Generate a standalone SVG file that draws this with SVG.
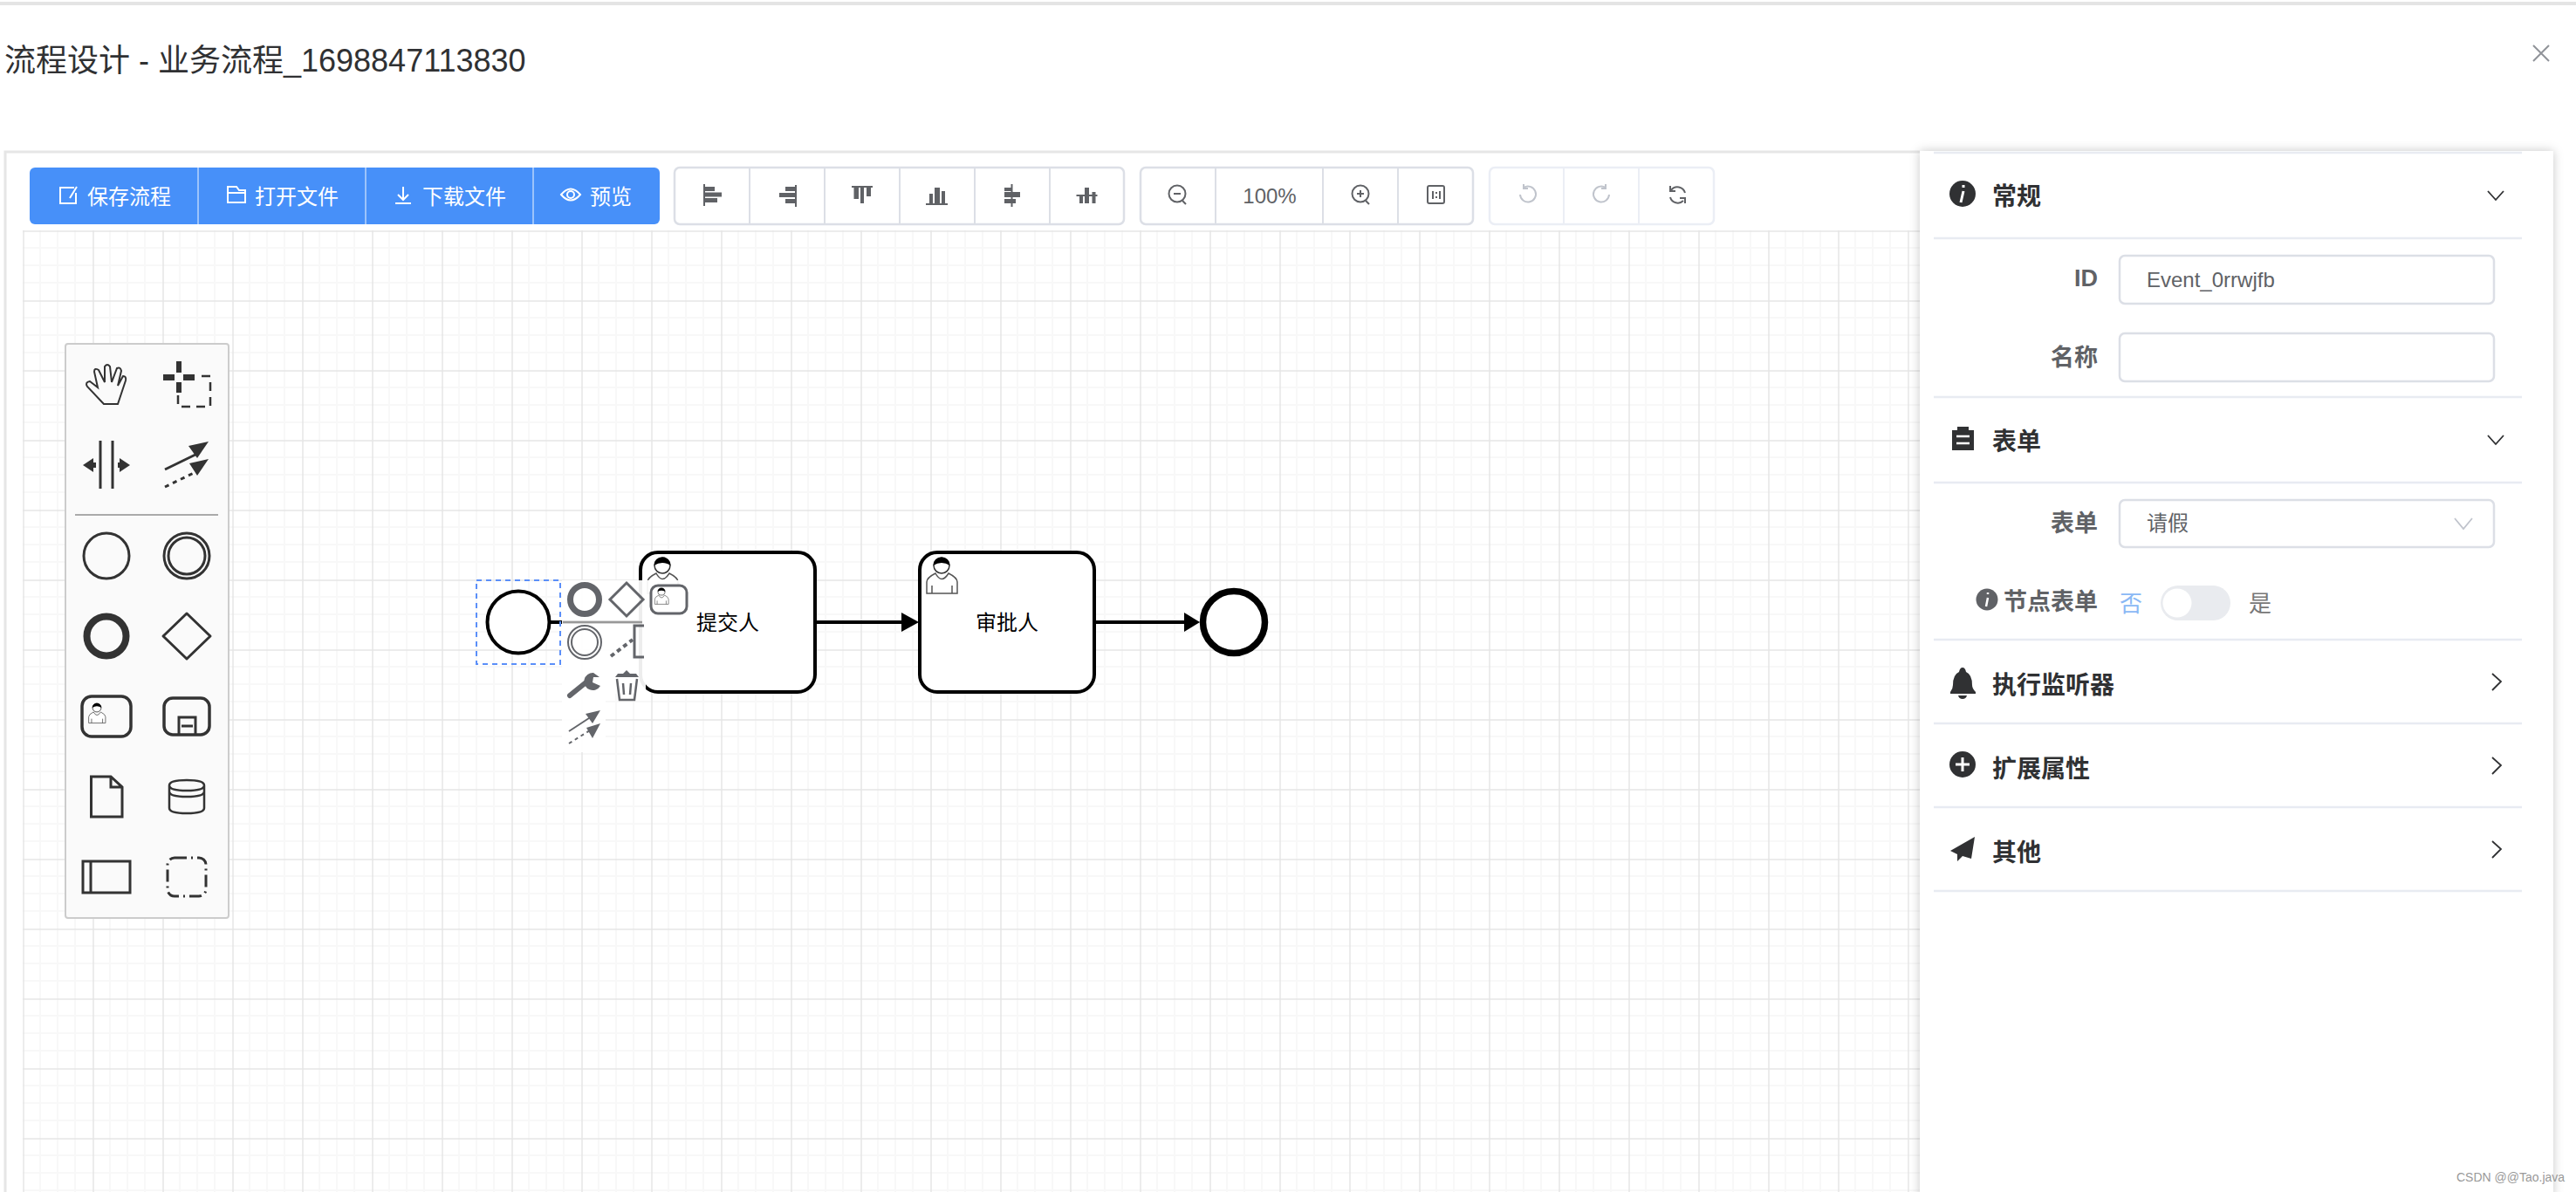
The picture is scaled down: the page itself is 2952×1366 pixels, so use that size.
<svg xmlns="http://www.w3.org/2000/svg" width="2952" height="1366" viewBox="0 0 2952 1366">
<style>
text{font-family:"Liberation Sans","Noto Sans CJK SC",sans-serif}
.btn{fill:#fff;font-size:24px}
.hd{fill:#303133;font-size:28px;font-weight:700}
.lb{fill:#606266;font-size:27px;font-weight:700;text-anchor:end}
.nd{fill:#000;font-size:24px;text-anchor:middle}
.tb{fill:#fff;stroke:#dcdfe6;stroke-width:2.5}
.dv{stroke:#dcdfe6;stroke-width:2}
.bi{fill:none;stroke:#fff;stroke-width:2}
.ic{fill:#606266}
.io{fill:none;stroke:#606266;stroke-width:2}
.dis{fill:none;stroke:#c0c4cc;stroke-width:2}
.pl{fill:none;stroke:#333;stroke-width:3}
.plf{fill:#333}
.pd{fill:none;stroke:#63656a;stroke-width:3}
.pdf{fill:#63656a}
.sep{stroke:#e8ebf2;stroke-width:2.5}
.chev{fill:none;stroke:#303133;stroke-width:1.8}
.inp{fill:#fff;stroke:#dcdfe6;stroke-width:2.5}
.flow{fill:none;stroke:#000;stroke-width:4}
.tk{fill:#fff;stroke:#000;stroke-width:4}
</style>
<defs>
<pattern id="grid" x="26" y="264" width="80" height="80" patternUnits="userSpaceOnUse">
<path d="M20 0V80M40 0V80M60 0V80M0 20H80M0 40H80M0 60H80" stroke="#f8f8f8" stroke-width="2" fill="none"/>
<path d="M1 0V80M0 1H80" stroke="#e6e6e6" stroke-width="1.500" fill="none"/>
</pattern>
<filter id="sh" x="-5%" y="-5%" width="110%" height="110%"><feDropShadow dx="0" dy="0" stdDeviation="6" flood-color="#000" flood-opacity=".22"/></filter>
<g id="user">
<path d="M-17 32V19Q-17 14-7 9Q0 22 8 9Q18 14 18 19V32Z" fill="#fff" stroke="#555" stroke-width="1.5"/>
<path d="M-11 23V32M12 23V32" stroke="#555" stroke-width="1.5"/>
<circle cx="0" cy="0" r="9" fill="#fff" stroke="#333" stroke-width="1.5"/>
<path d="M-9.500 0A9.500 9.500 0 0 1 9.500 0Q0-6-9.500 0Z" fill="#000"/>
</g>
</defs>

<rect width="2952" height="1366" fill="#fff"/>
<rect width="2952" height="4" y="2" fill="#e4e4e4"/>
<g id="title"><text x="5" y="82" font-size="36" fill="#303133">流程设计 - 业务流程_1698847113830</text>
<path d="M2903 52L2921 70M2921 52L2903 70" stroke="#909399" stroke-width="2" fill="none"/></g>

<g id="canvas">
<path d="M6 1366V174H2200" fill="none" stroke="#e6e6e6" stroke-width="3"/>
<rect x="26" y="264" width="2176" height="1102" fill="url(#grid)"/>
</g>

<g id="toolbar-main">
<rect x="34" y="192" width="722" height="65" rx="6" fill="#4790f9"/>
<path d="M227 192V257M419 192V257M611 192V257" stroke="#9cc3fb" stroke-width="2"/>
<path class="bi" d="M85 215H69V233H87V221M80 227L88 214"/>
<text class="btn" x="100" y="234">保存流程</text>
<path class="bi" d="M261 232V214H271L274 218H281V232ZM261 221H281"/>
<text class="btn" x="292" y="234">打开文件</text>
<path class="bi" d="M462 214V228M456 223L462 229L468 223M453 233H471"/>
<text class="btn" x="484" y="234">下载文件</text>
<path class="bi" d="M643 223Q654 210 665 223Q654 236 643 223Z"/><circle class="bi" cx="654" cy="223" r="4"/>
<text class="btn" x="676" y="234">预览</text>
</g>

<g id="toolbar-align">
<rect class="tb" x="773" y="192" width="515" height="65" rx="6"/>
<path class="dv" d="M859 192V257M945 192V257M1031 192V257M1117 192V257M1203 192V257"/>
<path class="ic" d="M806 211h2v25h-2zM808 214h11v5h-11zM808 220.500h19v5h-19zM808 227h14v5h-14z"/>
<path class="ic" d="M911 212h2v25h-2zM900 214h11v5h-11zM893 221h18v5h-18zM900 228h11v5h-11z"/>
<path class="ic" d="M976 213h24v2h-24zM978.500 215h5.500v13h-5.500zM986 215h4v18h-4zM993 215h5v10h-5z"/>
<path class="ic" d="M1061 233h25v2h-25zM1065 222h4v11h-4zM1071 215h6v18h-6zM1079 219h4v14h-4z"/>
<path class="ic" d="M1158.500 211h2v26h-2zM1151 215h9v4h-9zM1151 220h18v6h-18zM1151 228h13v5h-13z"/>
<path class="ic" d="M1233.500 223h24v2h-24zM1237 223h4v10h-4zM1243 215h5v18h-5zM1251.500 220h4v13h-4z"/>
</g>

<g id="toolbar-zoom">
<rect class="tb" x="1307" y="192" width="381" height="65" rx="6"/>
<path class="dv" d="M1393 192V257M1516 192V257M1602 192V257"/>
<circle class="io" cx="1349" cy="222" r="9.500"/><path class="io" d="M1345 222H1353M1355 230L1359 234"/>
<text x="1455" y="233" font-size="24" fill="#606266" text-anchor="middle">100%</text>
<circle class="io" cx="1559" cy="222" r="9.500"/><path class="io" d="M1555 222H1563M1559 218V226M1565 230L1569 234"/>
<rect class="io" x="1636" y="213" width="19" height="20" rx="2"/><path class="io" d="M1642 219V228M1650 219V228M1646 220V222M1646 225V227"/>
</g>

<g id="toolbar-history">
<rect x="1707" y="192" width="257" height="65" rx="6" fill="#fff" stroke="#ebeef5" stroke-width="2.500"/>
<path d="M1792 192V257M1878 192V257" stroke="#ebeef5" stroke-width="2"/>
<path class="dis" d="M1746 215A9 9 0 1 1 1742 223M1746 211V216H1751"/>
<path class="dis" d="M1840 215A9 9 0 1 0 1844 223M1840 211V216H1835"/>
<path class="io" d="M1915 218A9 9 0 0 1 1931 221M1929 230A9 9 0 0 1 1914 226M1914 213V219H1920M1931 233V227H1925"/>
</g>

<g id="palette">
<rect x="75" y="394" width="187" height="658" rx="3" fill="#fafafa" stroke="#ccc" stroke-width="2"/>
<path class="pl" style="stroke-width:2" d="M119 463L100 443Q97 438 103 437L112 444L108 426Q108 421 113 424L120 438L120 420Q123 416 126 420L128 438L134 422Q138 420 139 425L135 442L141 431Q145 431 144 436L135 463Z"/>
<path class="plf" d="M187 429H200V436H187ZM210 429H223V436H210ZM202 414H208V427H202ZM202 438H208V450H202Z"/>
<path class="pl" style="stroke-width:2.500;stroke-dasharray:10 7" d="M231 431H241V466H204V452"/>
<path class="pl" d="M115 505V560M129 505V560"/>
<path class="plf" d="M95 533L107 525V530H110V536H107V541ZM149 533L137 525V530H135V536H137V541Z"/>
<path class="pl" d="M189 538L226 520"/><path class="plf" d="M239 506L216 511L226 525Z"/>
<path class="pl" style="stroke-dasharray:5 5" d="M189 558L222 542"/><path class="plf" d="M239 526L217 531L226 545Z"/>
<path d="M86 590H250" stroke="#aaa" stroke-width="2"/>
<circle class="pl" cx="122" cy="637" r="26"/>
<circle class="pl" cx="214" cy="637" r="26"/><circle class="pl" cx="214" cy="637" r="21"/>
<circle class="pl" style="stroke-width:8" cx="122" cy="729" r="22.500"/>
<path class="pl" style="stroke-linejoin:round" d="M214 703L241 729L214 755L187 729Z"/>
<rect class="pl" style="stroke-width:3.500" x="94" y="798" width="56" height="46" rx="11"/>
<use href="#user" transform="translate(111 811) scale(.55)"/>
<rect class="pl" style="stroke-width:3.500" x="188" y="800" width="52" height="42" rx="10"/>
<path class="pl" d="M205 842V822H224V842M208 832H221"/>
<path class="pl" d="M104.500 890H127L140 902V936H104.500ZM127 890V902H140"/>
<path class="pl" style="stroke-width:2.500" d="M194 900Q194 894 214 894Q234 894 234 900V926Q234 932 214 932Q194 932 194 926ZM194 900Q194 906 214 906Q234 906 234 900M194 907Q194 913 214 913Q234 913 234 907"/>
<rect class="pl" x="95" y="987" width="54" height="36"/><path class="pl" d="M104 987V1023"/>
<rect class="pl" style="stroke-dasharray:14 5 2 5" x="192" y="983" width="44" height="44" rx="8"/>
</g>

<g id="connectors">
<path class="flow" d="M631 713H735"/>
<path class="flow" d="M935 713H1036"/><path d="M1053 713L1033 702V724Z"/>
<path class="flow" d="M1255 713H1360"/><path d="M1375 713L1357 702V724Z"/>
</g>

<g id="node-start">
<circle cx="594" cy="713" r="35.500" fill="#fff" stroke="#000" stroke-width="4"/>
<rect x="546" y="665" width="96" height="96" fill="none" stroke="#5b8ff9" stroke-width="2" stroke-dasharray="6 5"/>
</g>
<g id="node-submit">
<rect class="tk" x="734" y="633" width="200" height="160" rx="20"/>
<use href="#user" x="759" y="648"/>
<text class="nd" x="834" y="722">提交人</text>
</g>
<g id="node-approve">
<rect class="tk" x="1054" y="633" width="200" height="160" rx="20"/>
<use href="#user" x="1079" y="648"/>
<text class="nd" x="1154" y="722">审批人</text>
</g>
<g id="node-end">
<circle cx="1414" cy="713" r="35.500" fill="#fff" stroke="#000" stroke-width="7.500"/>
</g>

<g id="context-pad">
<path d="M644 665H790V708H740V795H694V862H644Z" fill="#fff" fill-opacity=".93"/>
<path d="M645 713H736" stroke="#999" stroke-width="2.500"/>
<circle cx="670" cy="687" r="16.500" fill="none" stroke="#63656a" stroke-width="7"/>
<path class="pd" d="M718 668L737 687L718 706L699 687Z"/>
<rect x="746" y="671" width="41" height="32" rx="8" fill="#fff" stroke="#63656a" stroke-width="3"/>
<use href="#user" transform="translate(758 678) scale(.45)"/>
<circle cx="670" cy="736" r="19" fill="none" stroke="#63656a" stroke-width="2"/><circle cx="670" cy="736" r="15" fill="none" stroke="#63656a" stroke-width="2"/>
<path d="M700 752L725 733" fill="none" stroke="#63656a" stroke-width="4" stroke-dasharray="5 4"/>
<path class="pd" d="M738 717H727V753H738"/>
<path d="M653 797L674 780" fill="none" stroke="#63656a" stroke-width="6" stroke-linecap="round"/>
<path d="M682 771A10 10 0 1 0 690 786L681 782L682 776L689 776Z" fill="#63656a" transform="translate(-2 0)"/>
<path class="pdf" d="M705 776H732L729 772H722L718 768L714 772H708Z"/>
<path class="pd" style="stroke-width:2.500" d="M707 778L710 802H727L730 778M714 783L715 796M723 783L722 796"/>
<path d="M652 838L678 821" fill="none" stroke="#63656a" stroke-width="2"/><path class="pdf" d="M688 814L671 818L679 829Z"/>
<path d="M652 852L676 837" fill="none" stroke="#63656a" stroke-width="2" stroke-dasharray="4 4"/><path class="pdf" d="M688 829L672 834L679 846Z"/>
</g>

<g id="panel">
<rect x="2200" y="173" width="726" height="1200" fill="#fff" filter="url(#sh)"/>
<path class="sep" d="M2216 175H2890M2216 273H2890M2216 455H2890M2216 553H2890M2216 733H2890M2216 829H2890M2216 925H2890M2216 1021H2890"/>
<circle cx="2249" cy="222" r="15" fill="#303133"/><path d="M2250 212V215M2250 219L2247 232" stroke="#fff" stroke-width="3" fill="none"/>
<text class="hd" x="2283" y="235">常规</text>
<path class="chev" d="M2851 219L2860 229L2869 219"/>
<path fill="#303133" d="M2237 493H2243V489H2256V493H2262V516H2237Z"/><path d="M2242 500H2257M2242 508H2257" stroke="#fff" stroke-width="2.500"/>
<text class="hd" x="2283" y="516">表单</text>
<path class="chev" d="M2851 499L2860 509L2869 499"/>
<text class="lb" x="2404" y="328">ID</text>
<rect class="inp" x="2429" y="293" width="429" height="55" rx="6"/>
<text x="2460" y="329" font-size="24" fill="#606266">Event_0rrwjfb</text>
<text class="lb" x="2404" y="419">名称</text>
<rect class="inp" x="2429" y="382" width="429" height="55" rx="6"/>
<text class="lb" x="2404" y="609">表单</text>
<rect class="inp" x="2429" y="573" width="429" height="54" rx="6"/>
<text x="2460" y="608" font-size="24" fill="#606266">请假</text>
<path d="M2813 594L2823 606L2833 594" fill="none" stroke="#c0c4cc" stroke-width="1.800"/>
<circle cx="2277" cy="687" r="12.500" fill="#606266"/><path d="M2278 679V681M2278 685L2276 695" stroke="#fff" stroke-width="2.500" fill="none"/>
<text class="lb" x="2404" y="699">节点表单</text>
<text x="2429" y="701" font-size="26" fill="#8ab8f5">否</text>
<rect x="2476" y="671" width="80" height="40" rx="20" fill="#e9ebef"/><circle cx="2495" cy="691" r="16.500" fill="#fff"/>
<text x="2577" y="701" font-size="26" fill="#777">是</text>
<path fill="#303133" d="M2249 765Q2252 765 2253 770Q2260 773 2260 785Q2260 789 2264 793V795H2235V793Q2238 789 2238 785Q2238 773 2245 770Q2246 765 2249 765ZM2244 797H2254Q2253 801 2249 801Q2245 801 2244 797Z"/>
<text class="hd" x="2283" y="795">执行监听器</text>
<path class="chev" d="M2856 772L2866 781L2856 791"/>
<circle cx="2249" cy="876" r="15" fill="#303133"/><path d="M2241 876H2257M2249 868V884" stroke="#fff" stroke-width="3"/>
<text class="hd" x="2283" y="891">扩展属性</text>
<path class="chev" d="M2856 868L2866 877L2856 887"/>
<path fill="#303133" d="M2263 959L2235 975L2243 979V987L2249 981L2259 984Z"/>
<text class="hd" x="2283" y="987">其他</text>
<path class="chev" d="M2856 964L2866 973L2856 983"/>
</g>

<text id="watermark" x="2815" y="1354" font-size="14" fill="#999">CSDN @@Tao.java</text>
</svg>
